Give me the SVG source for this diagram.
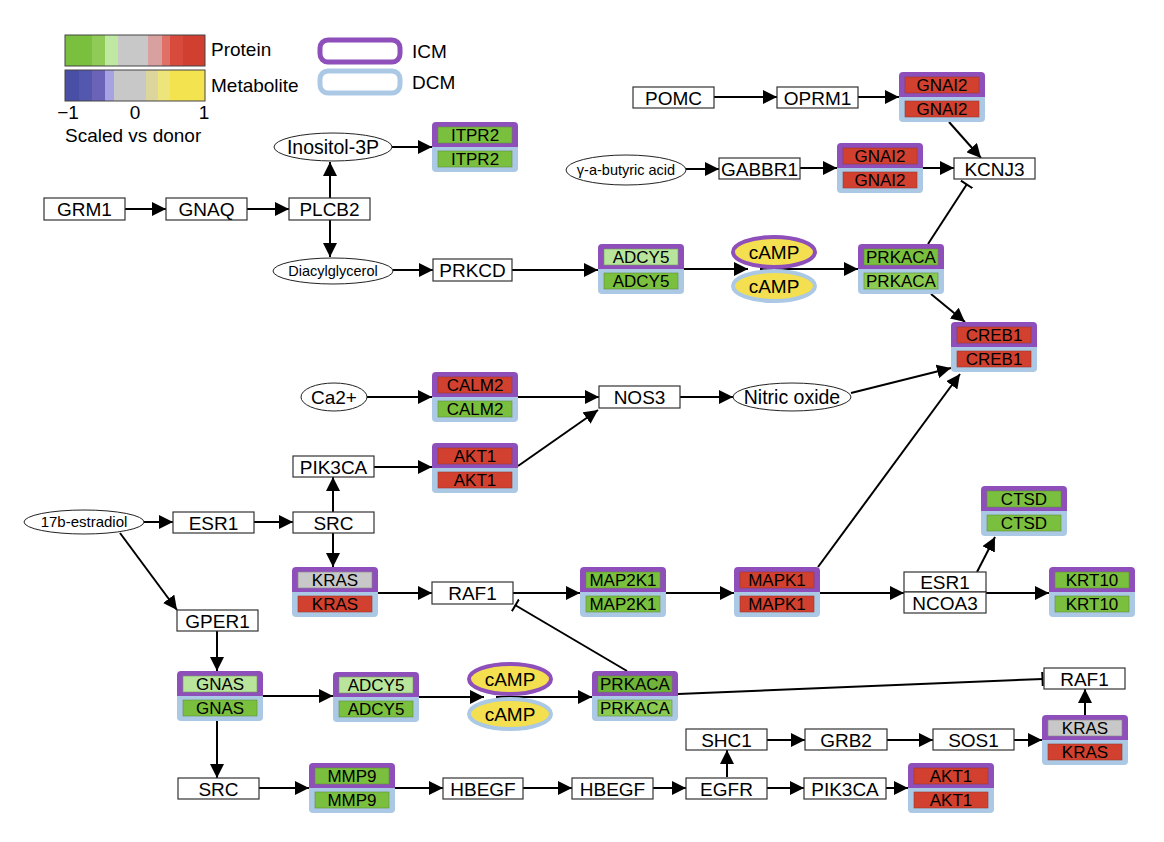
<svg xmlns="http://www.w3.org/2000/svg" xmlns:xlink="http://www.w3.org/1999/xlink" width="1164" height="842" viewBox="0 0 1164 842">
<style>
text{font-family:"Liberation Sans",Arial,sans-serif;fill:#000}
.box{fill:#fff;stroke:#333;stroke-width:1.2}
.bt{font-size:19px;text-anchor:middle}
.ct{font-size:17px;text-anchor:middle}
.et{text-anchor:middle}
.ell{fill:#fff;stroke:#222;stroke-width:1}
.icm{fill:#8f4fbb}
.dcm{fill:#abc8e5}
.red{fill:#d2412f;stroke:#9a3a30;stroke-width:0.6}
.grn{fill:#7bbf3f;stroke:#5e8f37;stroke-width:0.6}
.grn2{fill:#8ccb52;stroke:#5e8f37;stroke-width:0.6}
.lgrn{fill:#b8e49c;stroke:#6f9a5a;stroke-width:0.6}
.gry{fill:#c8c8c8;stroke:#888;stroke-width:0.6}
.camp{fill:#f3df4f}
.ci{stroke:#8f4fbb;stroke-width:4}
.cd{stroke:#abc8e5;stroke-width:4}
.e{stroke:#000;stroke-width:2;fill:none;marker-end:url(#arr)}
.inh{stroke:#000;stroke-width:2;fill:none;marker-end:url(#tee)}
.lg{font-size:19px}
</style>
<defs>
<marker id="arr" viewBox="0 0 14 14" refX="14" refY="7" markerWidth="14" markerHeight="14" markerUnits="userSpaceOnUse" orient="auto">
<path d="M0,0 L14,7 L0,14 z" fill="#000"/>
</marker>
<marker id="tee" viewBox="0 0 4 14" refX="2" refY="7" markerWidth="4" markerHeight="14" markerUnits="userSpaceOnUse" orient="auto">
<rect x="0.5" y="0" width="2" height="14" fill="#000"/>
</marker>
<path id="hi" d="M0,25 V4 Q0,0 4,0 H82 Q86,0 86,4 V25 Z" class="icm"/>
<path id="hd" d="M0,25 H86 V46 Q86,50 82,50 H4 Q0,50 0,46 Z" class="dcm"/>
</defs>

<g id="legend">
<rect x="65" y="35" width="27" height="31" fill="#7bbf3f"/>
<rect x="92" y="35" width="13" height="31" fill="#90cb57"/>
<rect x="105" y="35" width="13" height="31" fill="#bfe8a2"/>
<rect x="118" y="35" width="30" height="31" fill="#c8c8c8"/>
<rect x="148" y="35" width="14" height="31" fill="#d9a0a0"/>
<rect x="162" y="35" width="8" height="31" fill="#e07066"/>
<rect x="170" y="35" width="13" height="31" fill="#d84a3c"/>
<rect x="183" y="35" width="22" height="31" fill="#d03f30"/>
<rect x="65" y="35" width="140" height="31" fill="none" stroke="#444" stroke-width="1"/>
<rect x="65" y="70" width="14" height="31" fill="#4a4fa6"/>
<rect x="79" y="70" width="13" height="31" fill="#5357ae"/>
<rect x="92" y="70" width="13" height="31" fill="#6a63b8"/>
<rect x="105" y="70" width="9" height="31" fill="#a7a2e2"/>
<rect x="114" y="70" width="32" height="31" fill="#c8c8c8"/>
<rect x="146" y="70" width="12" height="31" fill="#dcd69c"/>
<rect x="158" y="70" width="12" height="31" fill="#ede47c"/>
<rect x="170" y="70" width="35" height="31" fill="#f3e34e"/>
<rect x="65" y="70" width="140" height="31" fill="none" stroke="#444" stroke-width="1"/>
<text class="lg" x="211" y="56">Protein</text>
<text class="lg" x="211" y="92">Metabolite</text>
<text class="lg" x="68" y="119" text-anchor="middle">−1</text>
<text class="lg" x="135" y="119" text-anchor="middle">0</text>
<text class="lg" x="204" y="119" text-anchor="middle">1</text>
<text class="lg" x="65" y="142">Scaled vs donor</text>
<rect x="320" y="40" width="80" height="22" rx="8" fill="#fff" stroke="#8f4fbb" stroke-width="5"/>
<rect x="320" y="71" width="80" height="22" rx="8" fill="#fff" stroke="#abc8e5" stroke-width="5"/>
<text class="lg" x="412" y="58">ICM</text>
<text class="lg" x="412" y="89">DCM</text>
</g>

<g id="connectors">
<line class="e" x1="125" y1="209" x2="166" y2="209"/>
<line class="e" x1="247" y1="209" x2="289" y2="209"/>
<line class="e" x1="330" y1="198" x2="330" y2="162"/>
<line class="e" x1="330" y1="220" x2="330" y2="257"/>
<line class="e" x1="392" y1="147" x2="432" y2="147"/>
<line class="e" x1="393" y1="270" x2="433" y2="270"/>
<line class="e" x1="512" y1="270" x2="598" y2="270"/>
<line class="e" x1="684" y1="269" x2="748" y2="269"/>
<line class="e" x1="760" y1="269" x2="858" y2="269"/>
<line class="e" x1="714" y1="97" x2="777" y2="97"/>
<line class="e" x1="858" y1="97" x2="899" y2="97"/>
<line class="e" x1="949" y1="122" x2="981" y2="158"/>
<line class="e" x1="686" y1="169" x2="719" y2="169"/>
<line class="e" x1="800" y1="168" x2="837" y2="168"/>
<line class="e" x1="923" y1="168" x2="954" y2="168"/>
<line class="inh" x1="928" y1="244" x2="967" y2="184"/>
<line class="e" x1="931" y1="294" x2="965" y2="322"/>
<line class="e" x1="367" y1="397" x2="432" y2="397"/>
<line class="e" x1="518" y1="397" x2="599" y2="397"/>
<line class="e" x1="518" y1="466" x2="598" y2="410"/>
<line class="e" x1="680" y1="397" x2="733" y2="397"/>
<line class="e" x1="851" y1="393" x2="951" y2="368"/>
<line class="e" x1="374" y1="467" x2="432" y2="467"/>
<line class="e" x1="333" y1="512" x2="333" y2="477"/>
<line class="e" x1="144" y1="522" x2="173" y2="522"/>
<line class="e" x1="254" y1="522" x2="293" y2="522"/>
<line class="e" x1="333" y1="533" x2="333" y2="567"/>
<line class="e" x1="120" y1="533" x2="177" y2="610"/>
<line class="e" x1="377" y1="593" x2="432" y2="593"/>
<line class="e" x1="513" y1="593" x2="580" y2="593"/>
<line class="e" x1="666" y1="593" x2="734" y2="593"/>
<line class="e" x1="820" y1="593" x2="904" y2="593"/>
<line class="e" x1="986" y1="593" x2="1049" y2="593"/>
<line class="e" x1="977" y1="572" x2="995" y2="537"/>
<line class="e" x1="818" y1="567" x2="960" y2="374"/>
<line class="e" x1="217" y1="631" x2="217" y2="671"/>
<line class="e" x1="263" y1="696" x2="333" y2="696"/>
<line class="e" x1="419" y1="697" x2="484" y2="697"/>
<line class="e" x1="496" y1="697" x2="592" y2="697"/>
<line class="e" x1="217" y1="721" x2="217" y2="778"/>
<line class="e" x1="259" y1="788" x2="309" y2="788"/>
<line class="e" x1="395" y1="788" x2="443" y2="788"/>
<line class="e" x1="523" y1="788" x2="572" y2="788"/>
<line class="e" x1="653" y1="788" x2="686" y2="788"/>
<line class="e" x1="727" y1="777" x2="727" y2="750"/>
<line class="e" x1="767" y1="740" x2="805" y2="740"/>
<line class="e" x1="887" y1="740" x2="933" y2="740"/>
<line class="e" x1="1014" y1="740" x2="1042" y2="740"/>
<line class="e" x1="1085" y1="715" x2="1085" y2="689"/>
<line class="e" x1="767" y1="788" x2="804" y2="788"/>
<line class="e" x1="886" y1="788" x2="908" y2="788"/>
<line class="inh" x1="627" y1="671" x2="515" y2="605"/>
<line class="inh" x1="678" y1="694" x2="1043" y2="679"/>
</g>

<g id="GRM1"><rect class="box" x="44" y="198" width="81" height="22"/><text class="bt" x="84.5" y="216">GRM1</text></g>
<g id="GNAQ"><rect class="box" x="166" y="198" width="81" height="22"/><text class="bt" x="206.5" y="216">GNAQ</text></g>
<g id="PLCB2"><rect class="box" x="289" y="198" width="81" height="22"/><text class="bt" x="329.5" y="216">PLCB2</text></g>
<g id="Inositol3P"><ellipse class="ell" cx="333" cy="147" rx="59" ry="14"/><text class="et" x="333" y="154" font-size="19.5">Inositol-3P</text></g>
<g id="Diacylglycerol"><ellipse class="ell" cx="333" cy="271" rx="60" ry="13"/><text class="et" x="333" y="276" font-size="14.5">Diacylglycerol</text></g>
<g id="PRKCD"><rect class="box" x="433" y="259" width="79" height="22"/><text class="bt" x="472.5" y="277">PRKCD</text></g>
<g id="POMC"><rect class="box" x="633" y="87" width="81" height="21"/><text class="bt" x="673.5" y="104.5">POMC</text></g>
<g id="OPRM1"><rect class="box" x="777" y="87" width="81" height="21"/><text class="bt" x="817.5" y="104.5">OPRM1</text></g>
<g id="GABA"><ellipse class="ell" cx="626" cy="170" rx="60" ry="15"/><text class="et" x="626" y="175" font-size="14.5">γ-a-butyric acid</text></g>
<g id="GABBR1"><rect class="box" x="719" y="158" width="81" height="21"/><text class="bt" x="759.5" y="175.5">GABBR1</text></g>
<g id="KCNJ3"><rect class="box" x="954" y="158" width="81" height="21"/><text class="bt" x="994.5" y="175.5">KCNJ3</text></g>
<g id="Ca2"><ellipse class="ell" cx="334" cy="397" rx="33" ry="14"/><text class="et" x="334" y="404" font-size="19">Ca2+</text></g>
<g id="NOS3"><rect class="box" x="599" y="386" width="81" height="22"/><text class="bt" x="639.5" y="404">NOS3</text></g>
<g id="NitricOxide"><ellipse class="ell" cx="792" cy="397" rx="59" ry="14"/><text class="et" x="792" y="404" font-size="19.5">Nitric oxide</text></g>
<g id="PIK3CA_1"><rect class="box" x="293" y="456" width="81" height="21"/><text class="bt" x="333.5" y="473.5">PIK3CA</text></g>
<g id="Estradiol"><ellipse class="ell" cx="84" cy="522" rx="60" ry="12"/><text class="et" x="84" y="527" font-size="15">17b-estradiol</text></g>
<g id="ESR1_1"><rect class="box" x="173" y="512" width="81" height="21"/><text class="bt" x="213.5" y="529.5">ESR1</text></g>
<g id="SRC_1"><rect class="box" x="293" y="512" width="81" height="21"/><text class="bt" x="333.5" y="529.5">SRC</text></g>
<g id="GPER1"><rect class="box" x="177" y="610" width="81" height="21"/><text class="bt" x="217.5" y="627.5">GPER1</text></g>
<g id="RAF1_1"><rect class="box" x="432" y="582" width="81" height="22"/><text class="bt" x="472.5" y="600">RAF1</text></g>
<g id="ESR1_NCOA3"><rect class="box" x="904" y="572" width="82" height="20"/><rect class="box" x="904" y="592" width="82" height="21"/><text class="bt" x="945" y="589">ESR1</text><text class="bt" x="945" y="610">NCOA3</text></g>
<g id="SRC_2"><rect class="box" x="178" y="778" width="81" height="21"/><text class="bt" x="218.5" y="795.5">SRC</text></g>
<g id="HBEGF_1"><rect class="box" x="443" y="778" width="80" height="21"/><text class="bt" x="483" y="795.5">HBEGF</text></g>
<g id="HBEGF_2"><rect class="box" x="572" y="778" width="81" height="21"/><text class="bt" x="612.5" y="795.5">HBEGF</text></g>
<g id="EGFR"><rect class="box" x="686" y="778" width="81" height="21"/><text class="bt" x="726.5" y="795.5">EGFR</text></g>
<g id="SHC1"><rect class="box" x="686" y="729" width="81" height="21"/><text class="bt" x="726.5" y="746.5">SHC1</text></g>
<g id="GRB2"><rect class="box" x="805" y="729" width="82" height="21"/><text class="bt" x="846" y="746.5">GRB2</text></g>
<g id="SOS1"><rect class="box" x="933" y="729" width="81" height="21"/><text class="bt" x="973.5" y="746.5">SOS1</text></g>
<g id="PIK3CA_2"><rect class="box" x="804" y="778" width="82" height="21"/><text class="bt" x="845" y="795.5">PIK3CA</text></g>
<g id="RAF1_2"><rect class="box" x="1044" y="668" width="81" height="21"/><text class="bt" x="1084.5" y="685.5">RAF1</text></g>

<g id="cAMP_1">
<ellipse class="camp ci" cx="774" cy="252" rx="41" ry="15"/><text class="bt" x="774" y="259">cAMP</text>
<ellipse class="camp cd" cx="774" cy="286" rx="41" ry="15"/><text class="bt" x="774" y="293">cAMP</text>
</g>
<g id="cAMP_2">
<ellipse class="camp ci" cx="510" cy="679" rx="41" ry="15"/><text class="bt" x="510" y="686">cAMP</text>
<ellipse class="camp cd" cx="510" cy="714" rx="41" ry="15"/><text class="bt" x="510" y="721">cAMP</text>
</g>

<g id="ITPR2" transform="translate(432,122)"><use href="#hi"/><use href="#hd"/><rect class="grn" x="6" y="5" width="74" height="16"/><rect class="grn" x="6" y="29" width="74" height="16"/><text class="ct" x="43" y="19">ITPR2</text><text class="ct" x="43" y="43">ITPR2</text></g>
<g id="GNAI2_1" transform="translate(899,72)"><use href="#hi"/><use href="#hd"/><rect class="red" x="6" y="5" width="74" height="16"/><rect class="red" x="6" y="29" width="74" height="16"/><text class="ct" x="43" y="19">GNAI2</text><text class="ct" x="43" y="43">GNAI2</text></g>
<g id="GNAI2_2" transform="translate(837,143)"><use href="#hi"/><use href="#hd"/><rect class="red" x="6" y="5" width="74" height="16"/><rect class="red" x="6" y="29" width="74" height="16"/><text class="ct" x="43" y="19">GNAI2</text><text class="ct" x="43" y="43">GNAI2</text></g>
<g id="ADCY5_1" transform="translate(598,244)"><use href="#hi"/><use href="#hd"/><rect class="lgrn" x="6" y="5" width="74" height="16"/><rect class="grn" x="6" y="29" width="74" height="16"/><text class="ct" x="43" y="19">ADCY5</text><text class="ct" x="43" y="43">ADCY5</text></g>
<g id="PRKACA_1" transform="translate(858,244)"><use href="#hi"/><use href="#hd"/><rect class="grn" x="6" y="5" width="74" height="16"/><rect class="grn2" x="6" y="29" width="74" height="16"/><text class="ct" x="43" y="19">PRKACA</text><text class="ct" x="43" y="43">PRKACA</text></g>
<g id="CREB1" transform="translate(951,322)"><use href="#hi"/><use href="#hd"/><rect class="red" x="6" y="5" width="74" height="16"/><rect class="red" x="6" y="29" width="74" height="16"/><text class="ct" x="43" y="19">CREB1</text><text class="ct" x="43" y="43">CREB1</text></g>
<g id="CALM2" transform="translate(432,372)"><use href="#hi"/><use href="#hd"/><rect class="red" x="6" y="5" width="74" height="16"/><rect class="grn" x="6" y="29" width="74" height="16"/><text class="ct" x="43" y="19">CALM2</text><text class="ct" x="43" y="43">CALM2</text></g>
<g id="AKT1_1" transform="translate(432,443)"><use href="#hi"/><use href="#hd"/><rect class="red" x="6" y="5" width="74" height="16"/><rect class="red" x="6" y="29" width="74" height="16"/><text class="ct" x="43" y="19">AKT1</text><text class="ct" x="43" y="43">AKT1</text></g>
<g id="KRAS_1" transform="translate(292,567)"><use href="#hi"/><use href="#hd"/><rect class="gry" x="6" y="5" width="74" height="16"/><rect class="red" x="6" y="29" width="74" height="16"/><text class="ct" x="43" y="19">KRAS</text><text class="ct" x="43" y="43">KRAS</text></g>
<g id="MAP2K1" transform="translate(580,567)"><use href="#hi"/><use href="#hd"/><rect class="grn" x="6" y="5" width="74" height="16"/><rect class="grn" x="6" y="29" width="74" height="16"/><text class="ct" x="43" y="19">MAP2K1</text><text class="ct" x="43" y="43">MAP2K1</text></g>
<g id="MAPK1" transform="translate(734,567)"><use href="#hi"/><use href="#hd"/><rect class="red" x="6" y="5" width="74" height="16"/><rect class="red" x="6" y="29" width="74" height="16"/><text class="ct" x="43" y="19">MAPK1</text><text class="ct" x="43" y="43">MAPK1</text></g>
<g id="CTSD" transform="translate(981,486)"><use href="#hi"/><use href="#hd"/><rect class="grn" x="6" y="5" width="74" height="16"/><rect class="grn" x="6" y="29" width="74" height="16"/><text class="ct" x="43" y="19">CTSD</text><text class="ct" x="43" y="43">CTSD</text></g>
<g id="KRT10" transform="translate(1049,567)"><use href="#hi"/><use href="#hd"/><rect class="grn" x="6" y="5" width="74" height="16"/><rect class="grn" x="6" y="29" width="74" height="16"/><text class="ct" x="43" y="19">KRT10</text><text class="ct" x="43" y="43">KRT10</text></g>
<g id="GNAS" transform="translate(177,671)"><use href="#hi"/><use href="#hd"/><rect class="lgrn" x="6" y="5" width="74" height="16"/><rect class="grn" x="6" y="29" width="74" height="16"/><text class="ct" x="43" y="19">GNAS</text><text class="ct" x="43" y="43">GNAS</text></g>
<g id="ADCY5_2" transform="translate(333,672)"><use href="#hi"/><use href="#hd"/><rect class="lgrn" x="6" y="5" width="74" height="16"/><rect class="grn" x="6" y="29" width="74" height="16"/><text class="ct" x="43" y="19">ADCY5</text><text class="ct" x="43" y="43">ADCY5</text></g>
<g id="PRKACA_2" transform="translate(592,671)"><use href="#hi"/><use href="#hd"/><rect class="grn" x="6" y="5" width="74" height="16" style="fill:#6fb33a"/><rect class="grn2" x="6" y="29" width="74" height="16"/><text class="ct" x="43" y="19">PRKACA</text><text class="ct" x="43" y="43">PRKACA</text></g>
<g id="MMP9" transform="translate(309,763)"><use href="#hi"/><use href="#hd"/><rect class="grn" x="6" y="5" width="74" height="16"/><rect class="grn" x="6" y="29" width="74" height="16"/><text class="ct" x="43" y="19">MMP9</text><text class="ct" x="43" y="43">MMP9</text></g>
<g id="AKT1_2" transform="translate(908,763)"><use href="#hi"/><use href="#hd"/><rect class="red" x="6" y="5" width="74" height="16"/><rect class="red" x="6" y="29" width="74" height="16"/><text class="ct" x="43" y="19">AKT1</text><text class="ct" x="43" y="43">AKT1</text></g>
<g id="KRAS_2" transform="translate(1042,715)"><use href="#hi"/><use href="#hd"/><rect class="gry" x="6" y="5" width="74" height="16"/><rect class="red" x="6" y="29" width="74" height="16"/><text class="ct" x="43" y="19">KRAS</text><text class="ct" x="43" y="43">KRAS</text></g>
</svg>
